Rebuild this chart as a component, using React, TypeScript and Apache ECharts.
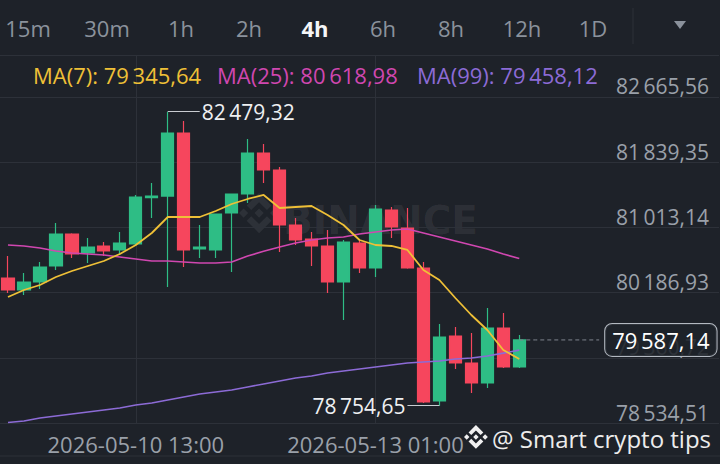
import React, { useEffect, useRef } from "react";
import * as echarts from "echarts";

// ---------- data ----------
const BASE = 78534.51; // lowest price tick
const STEP = 826.21; // price tick step
const TICK_COUNT = 5;

const START_UTC = Date.UTC(2026, 4, 9, 5, 0); // first visible candle
const CANDLE_HOURS = 4;
const SLOTS = 45; // visible candle slots (incl. empty future slots)
const LABEL_INDEXES = [8, 23];

const OPEN = [80371.9, 80219.9, 80321.3, 80524.0, 80929.5, 80688.7, 80777.4, 80726.8, 80802.8, 81390.0, 81410.0, 82209.4, 80739.4, 80726.8, 81195.6, 81436.4, 81955.9, 81740.5, 81043.6, 80866.1, 80777.4, 80321.3, 80815.5, 80498.7, 81233.6, 81005.5, 80498.7, 78813.3, 79637.0, 79294.8, 79041.4, 79738.3, 79244.1];
const CLOSE = [80219.9, 80321.3, 80511.3, 80929.5, 80676.1, 80764.8, 80714.1, 80815.5, 81398.4, 81410.0, 82209.4, 80726.8, 80764.8, 81182.9, 81436.4, 81955.9, 81740.5, 81043.6, 80853.5, 80777.4, 80321.3, 80828.1, 80498.7, 81246.3, 81018.2, 80498.7, 78800.6, 79624.3, 79294.8, 79041.4, 79738.3, 79244.1, 79587.14];
const HIGH = [80650.7, 80435.3, 80574.7, 81068.9, 80940.0, 80878.8, 80828.1, 80954.9, 81423.7, 81575.8, 82479.32, 82361.5, 81043.6, 81190.0, 81440.0, 82133.3, 82070.0, 81778.5, 81132.3, 80954.9, 80980.2, 80853.5, 80853.5, 81297.0, 81271.7, 81259.0, 80574.7, 79789.0, 79751.0, 79675.0, 79991.8, 79928.4, 79649.6];
const LOW = [80181.9, 80156.5, 80232.5, 80473.3, 80625.4, 80562.0, 80650.7, 80663.4, 80790.1, 81132.3, 80257.9, 80511.3, 80625.4, 80625.4, 80448.0, 81322.3, 81575.8, 80701.4, 80790.1, 80524.0, 80181.9, 79839.7, 80435.3, 80384.6, 80878.8, 80490.0, 78787.9, 78754.65, 79218.8, 78914.7, 78978.0, 79231.5, 79231.5];

const MA7 = [80131.2, 80219.9, 80283.2, 80384.6, 80460.6, 80524.0, 80587.4, 80676.1, 80790.1, 80942.2, 81144.9, 81144.9, 81144.9, 81221.0, 81309.7, 81373.0, 81423.7, 81259.0, 81271.7, 81284.3, 81170.3, 81043.6, 80853.5, 80790.1, 80777.4, 80726.8, 80473.3, 80346.6, 80118.5, 79903.1, 79713.0, 79459.6, 79345.64];
const MA25 = [80790.1, 80777.4, 80752.1, 80714.1, 80688.7, 80676.1, 80663.4, 80638.1, 80612.7, 80587.4, 80587.4, 80574.7, 80562.0, 80562.0, 80574.7, 80650.0, 80710.0, 80764.8, 80815.5, 80853.5, 80878.8, 80891.5, 80929.5, 80954.9, 80980.2, 80992.9, 80942.2, 80891.5, 80840.8, 80790.1, 80739.4, 80676.1, 80618.98];
const MA99 = [78540.0, 78559.9, 78597.9, 78623.2, 78648.6, 78673.9, 78699.2, 78724.6, 78762.6, 78787.9, 78826.0, 78864.0, 78902.0, 78927.3, 78952.7, 78990.7, 79028.7, 79066.7, 79104.8, 79130.1, 79168.1, 79193.5, 79218.8, 79244.1, 79269.5, 79294.8, 79307.5, 79320.2, 79345.5, 79358.2, 79383.5, 79420.0, 79458.12];

const TIMEFRAMES = ["15m", "30m", "1h", "2h", "4h", "6h", "8h", "12h", "1D"];
const ACTIVE_TIMEFRAME = "4h";
const WATERMARK = "BINANCE";
const CREDIT = "@ Smart crypto tips";

// ---------- layout / style ----------
const TF_X = [28, 107, 181, 249, 315, 383, 451, 522, 593];
const BG = "#1e2229";
const GRID = "#2d3139";
const LABEL = "#9aa0a9";
const GREEN = "#2ebd85";
const RED = "#f6465d";
const C_MA7 = "#efc037";
const C_MA25 = "#d047b0";
const C_MA99 = "#8c6bd6";
const FONT = "'Open Sans', 'Noto Sans', sans-serif";

const LOGO_D =
  "M38.171 53.203 L62.759 28.616 l24.601 24.601 l14.307 -14.307 L62.759 0 L23.864 38.896 Z " +
  "M0 62.759 l14.307 -14.307 l14.307 14.307 l-14.307 14.307 Z " +
  "M38.171 72.315 l24.588 24.587 l24.601 -24.601 l14.314 14.3 l-38.915 38.915 l-38.915 -38.915 Z " +
  "M96.904 62.765 l14.307 -14.307 l14.307 14.307 l-14.307 14.307 Z " +
  "M77.271 62.751 L62.759 48.233 L48.256 62.736 L62.759 77.258 Z";
echarts.graphic.registerShape("bnbLogo", echarts.graphic.extendPath(LOGO_D, {}) as any);

function fmtPrice(v: number): string {
  const s = v.toFixed(2);
  const [i, d] = s.split(".");
  return i.replace(/\B(?=(\d{3})+(?!\d))/g, "\u2009") + "," + d;
}
function pad(n: number) {
  return n < 10 ? "0" + n : "" + n;
}
function fmtDate(t: number) {
  const d = new Date(t);
  return `${d.getUTCFullYear()}-${pad(d.getUTCMonth() + 1)}-${pad(d.getUTCDate())} ${pad(d.getUTCHours())}:${pad(d.getUTCMinutes())}`;
}

const CATEGORIES = Array.from({ length: SLOTS }, (_, i) => fmtDate(START_UTC + i * CANDLE_HOURS * 3600 * 1000));

export default function App() {
  const ref = useRef<HTMLDivElement>(null);

  useEffect(() => {
    if (!ref.current) return;
    const chart = echarts.init(ref.current, undefined, { renderer: "svg" });

    const sh = (v: number) => v - BASE;
    const n = CLOSE.length;
    const last = n - 1;
    const lastClose = CLOSE[last];

    let hiIdx = 0;
    let loIdx = 0;
    HIGH.forEach((h, i) => { if (h > HIGH[hiIdx]) hiIdx = i; });
    LOW.forEach((l, i) => { if (l < LOW[loIdx]) loIdx = i; });

    const candles = OPEN.map((o, i) => [sh(o), sh(CLOSE[i]), sh(LOW[i]), sh(HIGH[i])]);
    const lastLine = Array.from({ length: last + 6 }, (_, i) => (i >= last ? sh(lastClose) : null));

    const topMax = STEP * TICK_COUNT + 532;
    const isLabel = (i: number) => LABEL_INDEXES.indexOf(i) >= 0;

    const graphics: any[] = [];
    TIMEFRAMES.forEach((tf, i) => {
      const active = tf === ACTIVE_TIMEFRAME;
      graphics.push({
        type: "text",
        z: 50,
        style: {
          text: tf,
          x: TF_X[i],
          y: 27.5,
          align: "center",
          verticalAlign: "middle",
          fill: active ? "#f5f6f7" : "#8b929c",
          fontSize: 22,
          fontWeight: active ? "bold" : "normal",
          fontFamily: FONT,
        },
      });
    });
    graphics.push({
      type: "line",
      z: 50,
      shape: { x1: 633, y1: 8, x2: 633, y2: 44 },
      style: { stroke: GRID, lineWidth: 1 },
    });
    graphics.push({
      type: "polygon",
      z: 50,
      shape: { points: [[674, 21], [686, 21], [680, 29]] },
      style: { fill: "#8b929c" },
    });

    const legend = [
      { name: "MA(7)", v: MA7[last], c: C_MA7, x: 33 },
      { name: "MA(25)", v: MA25[last], c: C_MA25, x: 217 },
      { name: "MA(99)", v: MA99[last], c: C_MA99, x: 417 },
    ];
    legend.forEach((l) => {
      graphics.push({
        type: "text",
        z: 50,
        style: {
          text: `${l.name}: ${fmtPrice(l.v)}`,
          x: l.x,
          y: 75,
          verticalAlign: "middle",
          fill: l.c,
          fontSize: 22,
          fontFamily: FONT,
        },
      });
    });

    // watermark
    graphics.push({
      type: "bnbLogo",
      z: 0,
      x: 239,
      y: 193,
      scaleX: 0.32,
      scaleY: 0.32,
      style: { fill: "rgba(255,255,255,0.07)" },
    });
    graphics.push({
      type: "text",
      z: 0,
      style: {
        text: WATERMARK,
        x: 283,
        y: 220,
        verticalAlign: "middle",
        fill: "rgba(255,255,255,0.07)",
        fontSize: 39,
        fontWeight: "bold",
        fontFamily: "'DejaVu Sans', sans-serif",
      },
    });

    // bottom credit
    graphics.push({
      type: "line",
      z: 1,
      shape: { x1: 0, y1: 456, x2: 720, y2: 456 },
      style: { stroke: GRID, lineWidth: 1 },
    });
    graphics.push({
      type: "bnbLogo",
      z: 60,
      x: 464,
      y: 425,
      scaleX: 0.19,
      scaleY: 0.19,
      style: { fill: "#f0f0f0" },
    });
    graphics.push({
      type: "text",
      z: 60,
      style: {
        text: CREDIT,
        x: 492,
        y: 438,
        verticalAlign: "middle",
        fill: "#ececec",
        fontSize: 24,
        fontFamily: FONT,
      },
    });

    const lineBase = {
      type: "line",
      showSymbol: false,
      symbol: "none",
      smooth: false,
      silent: true,
    };

    chart.setOption({
      animation: false,
      backgroundColor: BG,
      textStyle: { fontFamily: FONT },
      grid: { left: -1, top: 55, width: 720, bottom: 41, containLabel: false },
      xAxis: {
        type: "category",
        data: CATEGORIES,
        boundaryGap: true,
        axisLine: { show: false },
        axisTick: { show: false },
        axisLabel: {
          interval: (i: number) => isLabel(i),
          color: LABEL,
          fontSize: 22,
          fontFamily: FONT,
          margin: 10,
        },
        splitLine: {
          show: true,
          alignWithLabel: true,
          interval: (i: number) => isLabel(i),
          lineStyle: { color: GRID, width: 1 },
        },
      } as any,
      yAxis: {
        type: "value",
        position: "right",
        min: 0,
        max: topMax,
        interval: STEP,
        axisLine: { show: false },
        axisTick: { show: false },
        splitLine: { show: true, lineStyle: { color: GRID, width: 1 } },
        axisLabel: {
          inside: true,
          showMaxLabel: false,
          margin: 10,
          verticalAlign: "bottom",
          color: LABEL,
          fontSize: 21,
          fontFamily: FONT,
          formatter: (v: number) => fmtPrice(v + BASE),
        },
      },
      graphic: graphics,
      series: [
        {
          ...lineBase,
          name: "last",
          data: lastLine,
          lineStyle: { color: "#7f858e", width: 1, type: [4, 3] },
          endLabel: {
            show: true,
            formatter: () => fmtPrice(lastClose),
            distance: 6,
            color: "#ffffff",
            fontSize: 22,
            fontFamily: FONT,
            backgroundColor: "rgba(30,34,41,0.88)",
            borderColor: "#b3b9c1",
            borderWidth: 1,
            borderRadius: 7,
            padding: [5, 7, 5, 7],
          },
        },
        {
          type: "candlestick",
          name: "BTC",
          data: candles,
          barWidth: "80%",
          silent: true,
          itemStyle: {
            color: GREEN,
            color0: RED,
            borderColor: GREEN,
            borderColor0: RED,
            borderWidth: 1.2,
          },
          markLine: {
            silent: true,
            symbol: ["none", "none"],
            animation: false,
            lineStyle: { color: "#c9ccd1", width: 1, type: "solid" },
            label: {
              show: true,
              position: "end",
              distance: 2,
              color: "#eef0f2",
              fontSize: 21,
              fontFamily: FONT,
            },
            data: [
              [
                { coord: [hiIdx, sh(HIGH[hiIdx])], label: { formatter: () => fmtPrice(HIGH[hiIdx]) } },
                { coord: [hiIdx + 2, sh(HIGH[hiIdx])] },
              ],
              [
                { coord: [loIdx, sh(LOW[loIdx])], label: { formatter: () => fmtPrice(LOW[loIdx]) } },
                { coord: [loIdx - 2, sh(LOW[loIdx])] },
              ],
            ],
          },
        },
        { ...lineBase, name: "MA99", data: MA99.map(sh), lineStyle: { color: C_MA99, width: 1.6 } },
        { ...lineBase, name: "MA25", data: MA25.map(sh), lineStyle: { color: C_MA25, width: 1.6 } },
        { ...lineBase, name: "MA7", data: MA7.map(sh), lineStyle: { color: C_MA7, width: 1.8 } },
      ],
    } as any);

    return () => chart.dispose();
  }, []);

  return (
    <div
      ref={ref}
      style={{ position: "fixed", left: 0, top: 0, width: 720, height: 464, background: BG }}
    />
  );
}
